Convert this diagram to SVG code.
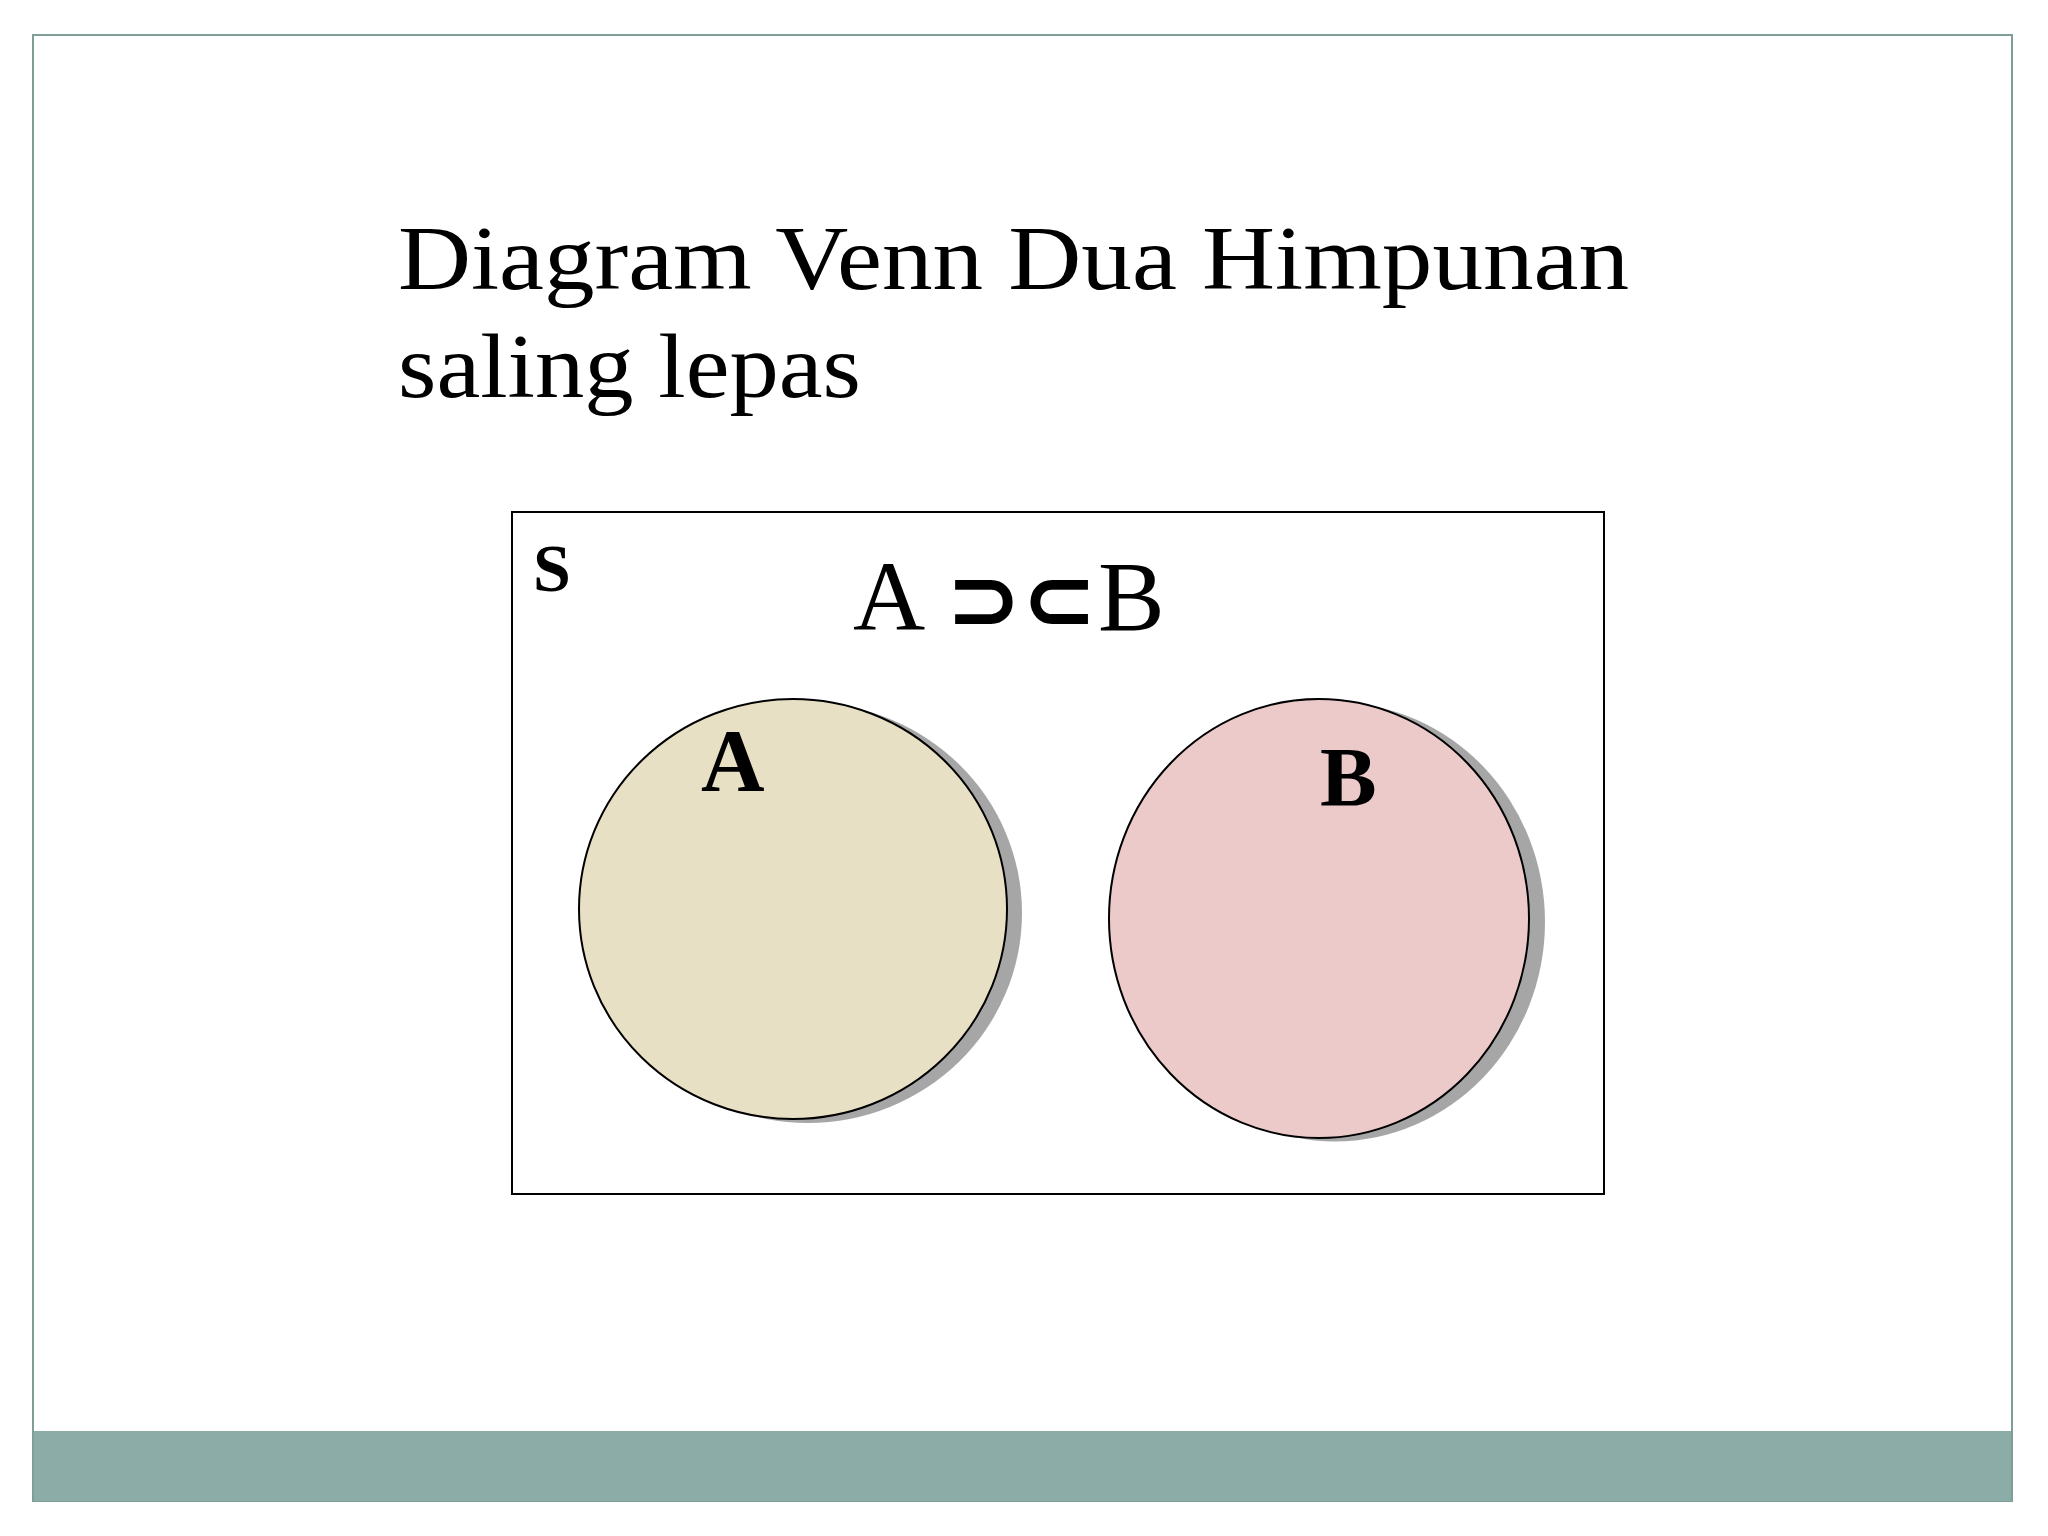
<svg xmlns="http://www.w3.org/2000/svg" width="2048" height="1536" viewBox="0 0 2048 1536">
  <style>
    .serif { font-family: "Liberation Serif", "Times New Roman", serif; fill: #000; }
    .shadow { fill: #A6A6A6; }
    .set { stroke: #000; stroke-width: 2; }
  </style>
  <rect x="0" y="0" width="2048" height="1536" fill="#FFFFFF"/>
  <g id="slide-frame">
    <rect x="33" y="35" width="1979" height="1466" fill="#FFFFFF" stroke="#7F9E99" stroke-width="2"/>
    <rect x="34" y="1431" width="1977" height="70" fill="#8CACA8"/>
  </g>
  <g id="title">
    <text class="serif" x="398" y="289" font-size="90" textLength="1231" lengthAdjust="spacingAndGlyphs">Diagram Venn Dua Himpunan</text>
    <text class="serif" x="398" y="397" font-size="90" textLength="463" lengthAdjust="spacingAndGlyphs">saling lepas</text>
  </g>
  <g id="universe">
    <rect x="512" y="512" width="1092" height="682" fill="#FFFFFF" stroke="#000" stroke-width="2"/>
    <text class="serif" x="533" y="591" font-size="68" font-weight="bold">S</text>
    <text class="serif" y="630" font-size="100"><tspan x="853">A</tspan><tspan x="946" font-family="DejaVu Sans, sans-serif" font-weight="bold" font-size="90">⊃⊂</tspan><tspan x="1098">B</tspan></text>
  </g>
  <g id="set-A">
    <ellipse class="shadow" cx="808" cy="913" rx="214" ry="210"/>
    <ellipse class="set" cx="793" cy="909" rx="214" ry="210" fill="#E8E0C4"/>
    <text class="serif" x="701" y="790" font-size="88" font-weight="bold">A</text>
  </g>
  <g id="set-B">
    <ellipse class="shadow" cx="1335" cy="922" rx="210" ry="219.5"/>
    <ellipse class="set" cx="1319" cy="918.5" rx="210" ry="219.5" fill="#ECCACA"/>
    <text class="serif" x="1320" y="806" font-size="85" font-weight="bold">B</text>
  </g>
  <g id="connectors"/>
</svg>
